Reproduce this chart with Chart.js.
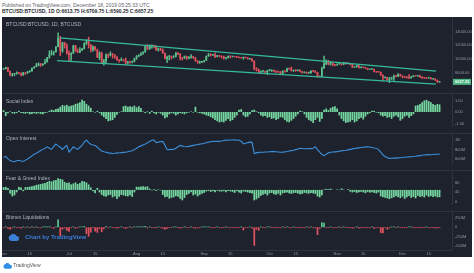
<!DOCTYPE html>
<html>
<head>
<meta charset="utf-8">
<script src="https://cdn.jsdelivr.net/npm/chart.js@4.4.1/dist/chart.umd.min.js"></script>
<style>
  html, body { margin: 0; padding: 0; background: #fff; }
  body { width: 474px; height: 273px; position: relative; overflow: hidden; font-family: Arial, 'Liberation Sans', sans-serif; }
  .hdr { position: absolute; left: 2px; font-size: 5px; line-height: 6px; color: #5d6068; white-space: nowrap; }
  .hdr.b { font-weight: bold; color: #2a2d33; }
  #panel { position: absolute; left: 2px; top: 17px; width: 470px; height: 240px; background: #1e222d; overflow: hidden; }
  #panel canvas { position: absolute; left: 0; }
  .sep { position: absolute; left: 0; width: 470px; height: 1px; background: #30343f; }
  .lbl { position: absolute; left: 4px; font-size: 5px; line-height: 6px; color: #b2b5be; white-space: nowrap; }
  .wm { position: absolute; left: 6px; top: 216px; font-size: 6px; line-height: 8px; font-weight: bold; color: #3b7fd6; white-space: nowrap; }
  .wm svg { vertical-align: middle; margin-right: 6px; }
  .foot { position: absolute; left: 3px; top: 262px; font-size: 5px; line-height: 7px; color: #50535b; white-space: nowrap; }
  .foot svg { vertical-align: middle; margin-right: 1px; }
</style>
</head>
<body>
<div class="hdr" style="top:2px">Published on TradingView.com, December 18, 2019 05:25:33 UTC</div>
<div class="hdr b" style="top:8px">BTCUSD:BTCUSD, 1D O:6613.75 H:6709.75 L:6590.25 C:6657.25</div>

<div id="panel">
  <canvas id="price" width="470" height="76" style="top:0"></canvas>
  <canvas id="social" width="470" height="40" style="top:76px"></canvas>
  <canvas id="oi" width="470" height="37" style="top:116px"></canvas>
  <canvas id="fg" width="470" height="41" style="top:153px"></canvas>
  <canvas id="liq" width="470" height="46" style="top:194px"></canvas>
  <div class="sep" style="top:76px"></div>
  <div class="sep" style="top:116px"></div>
  <div class="sep" style="top:153px"></div>
  <div class="sep" style="top:194px"></div>
  <div class="lbl" style="top:4px">BTCUSD:BTCUSD, 1D, BTCUSD</div>
  <div class="lbl" style="top:81px">Social Index</div>
  <div class="lbl" style="top:118px">Open Interest</div>
  <div class="lbl" style="top:158px">Fear &amp; Greed Index</div>
  <div class="lbl" style="top:197px">Bitmex Liquidations</div>
  <div class="wm"><svg width="11" height="7" viewBox="0 0 22 14"><path d="M6 14 A6 6 0 0 1 5 2.5 A7 7 0 0 1 17 4 A5 5 0 0 1 17 14 Z" fill="#3b7fd6"/></svg>Chart by TradingView</div>
</div>

<div class="foot"><svg width="9" height="6" viewBox="0 0 22 14"><path d="M6 14 A6 6 0 0 1 5 2.5 A7 7 0 0 1 17 4 A5 5 0 0 1 17 14 Z" fill="#2f8fe6"/></svg>TradingView</div>

<script>
// Daily bars, index 0 = Jun 1 2019 ... index 200 = Dec 18 2019
const firstOpen = 8555;
const closes = [
  // Jun
  8557, 8740, 8210, 7680, 7800, 7810, 8000, 7930, 7630, 8015,
  7930, 8180, 8230, 8690, 8840, 8980, 9320, 9080, 9280, 9530,
  10210, 10670, 10860, 11010, 11790, 13017, 11162, 12407, 11960, 10817,
  // Jul
  10580, 10800, 11960, 11140, 10970, 11240, 11450, 12290, 12570, 12100,
  11340, 11790, 11370, 10200, 10850, 9430, 9670, 10630, 10530, 10760,
  10590, 10320, 9850, 9770, 9880, 9850, 9480, 9530, 9500, 9590, 10090,
  // Aug
  10410, 10530, 10820, 10980, 11800, 11470, 11950, 11960, 11850, 11280,
  11530, 11380, 10860, 10020, 10300, 10360, 10230, 10340, 10920, 10760,
  10130, 10120, 10410, 10140, 10140, 10370, 10190, 9720, 9490, 9590, 9630,
  // Sep
  9760, 10390, 10620, 10580, 10580, 10320, 10490, 10410, 10340, 10120,
  10160, 10420, 10360, 10360, 10310, 10260, 10190, 10160, 10270, 10180,
  9990, 10030, 9700, 8530, 8430, 8060, 8190, 8210, 8050, 8300,
  // Oct
  8320, 8380, 8230, 8160, 8150, 7870, 8210, 8180, 8590, 8580,
  8270, 8340, 8310, 8370, 8160, 8000, 8070, 7950, 7960, 8230,
  8220, 8030, 7470, 7430, 8660, 9250, 9550, 9220, 9430, 9190, 9150,
  // Nov
  9260, 9310, 9200, 9400, 9310, 9350, 9200, 8770, 8810, 9040,
  8730, 8810, 8760, 8630, 8460, 8490, 8500, 8180, 8120, 8080,
  7620, 7290, 7320, 6910, 7150, 7170, 7520, 7430, 7760, 7560,
  // Dec
  7420, 7310, 7300, 7200, 7400, 7540, 7510, 7530, 7340, 7230,
  7210, 7200, 7260, 7070, 7110, 6880, 6613.75, 6657.25
];
const highs = [
  8630, 8810, 8760, 8220, 7900, 7880, 8120, 8060, 7960, 8050,
  8040, 8190, 8320, 8700, 8880, 9350, 9430, 9340, 9310, 9950,
  10240, 11180, 11250, 11090, 11800, 13800, 13300, 12440, 12410, 12200,
  11200, 10920, 12000, 12000, 11460, 11650, 11560, 12340, 12820, 13180,
  12130, 11920, 11840, 11430, 11060, 11000, 9950, 10750, 10760, 11050,
  10800, 10650, 10340, 9920, 10160, 9900, 10150, 9640, 9690, 9700, 10120,
  10510, 10630, 10920, 11070, 12010, 12090, 12050, 12010, 12040, 11950,
  11560, 11580, 11450, 10900, 10430, 10520, 10430, 10480, 10940, 10930,
  10770, 10240, 10440, 10420, 10330, 10620, 10380, 10250, 9760, 9690, 9670,
  9800, 10440, 10800, 10770, 10630, 10890, 10530, 10540, 10430, 10400,
  10220, 10450, 10450, 10380, 10380, 10340, 10280, 10250, 10300, 10280,
  10200, 10090, 10040, 9740, 8720, 8540, 8270, 8340, 8230, 8360,
  8500, 8410, 8390, 8270, 8210, 8170, 8300, 8320, 8660, 8650,
  8820, 8400, 8450, 8420, 8400, 8180, 8130, 8100, 8100, 8310,
  8330, 8300, 8050, 7500, 8800, 10400, 9860, 9810, 9530, 9440, 9220,
  9280, 9390, 9320, 9520, 9490, 9430, 9370, 9230, 8860, 9120,
  9060, 8850, 8830, 8780, 8650, 8510, 8600, 8510, 8180, 8200,
  8090, 7680, 7380, 7330, 7350, 7350, 7650, 7650, 7860, 7780,
  7570, 7430, 7420, 7730, 7480, 7620, 7600, 7560, 7630, 7420,
  7270, 7240, 7320, 7270, 7150, 7130, 6940, 6709.75
];
const lows = [
  8470, 8540, 8130, 7510, 7480, 7560, 7770, 7800, 7530, 7580,
  7730, 7880, 8080, 8180, 8630, 8820, 8970, 8920, 9050, 9270,
  9530, 10100, 10560, 10560, 11000, 11750, 10490, 10980, 11580, 10690,
  9750, 9800, 10790, 11040, 10900, 10900, 11200, 11450, 12100, 11600,
  11020, 11100, 11260, 10190, 9880, 9360, 9100, 9300, 10200, 10420,
  10120, 10080, 9800, 9530, 9730, 9680, 9140, 9250, 9400, 9410, 9560,
  9940, 10350, 10520, 10660, 10960, 11370, 11390, 11580, 11620, 11230,
  11140, 11210, 10790, 10020, 9470, 9860, 9990, 10150, 10290, 10620,
  9840, 9840, 10050, 9920, 10010, 10120, 10060, 9650, 9350, 9340, 9450,
  9540, 9750, 10380, 10430, 10470, 10200, 10290, 10290, 10110, 9960,
  9950, 10100, 10150, 10280, 10280, 10200, 10140, 10130, 9950, 10130,
  9960, 9930, 9650, 8430, 8250, 7900, 7950, 8110, 7940, 7730,
  8250, 8170, 8100, 8010, 8050, 7790, 7830, 8060, 8160, 8470,
  8230, 8180, 8200, 8250, 8100, 7930, 7960, 7850, 7870, 7900,
  8150, 8000, 7350, 7370, 7400, 8600, 9170, 9130, 9100, 8970, 8990,
  9050, 9210, 9080, 9170, 9250, 9260, 9130, 8730, 8750, 8800,
  8660, 8700, 8700, 8580, 8410, 8420, 8470, 8090, 8020, 8050,
  7580, 6790, 7200, 6880, 6530, 7000, 6870, 7370, 7420, 7480,
  7240, 7250, 7210, 7140, 7190, 7390, 7480, 7450, 7320, 7170,
  7140, 7110, 7180, 7040, 7020, 6850, 6560, 6590.25
];
const socialIndex = [
  0.15, -0.35, -0.1, 0.05, -0.12, -0.15, -0.1, 0.1, -0.08, -0.12, -0.15, -0.1, -0.2, -0.18, -0.1,
  -0.15, -0.12, -0.18, -0.2, -0.08, -0.05, 0.1, 0.2, 0.15, 0.25, 0.3, 0.45, 0.6, 0.55, 0.62,
  0.5, 0.55, 0.6, 0.7, 0.75, 0.85, 1.05, 0.95, 0.7, 0.55, 0.35, 0.05, -0.05, 0.1, -0.1, -0.3,
  -0.45, -0.6, -0.8, -0.75, -0.7, -0.5, -0.25, -0.05, 0.05, 0.5, 0.55, 0.45, 0.5, 0.45, 0.55,
  0.4, 0.5, 0.35, 0.05, -0.1, 0.05, -0.15, 0.1, -0.1, -0.2, -0.05, -0.15, -0.3, -0.55, -0.45,
  -0.2, -0.1, -0.15, -0.3, -0.2, -0.1, -0.15, -0.2, -0.1, -0.05, 0.05, -0.05, 0.45, -0.05, -0.1, -0.15,
  -0.2, -0.3, -0.35, -0.45, -0.55, -0.7, -0.8, -0.9, -0.85, -0.9, -0.75, -0.6, -0.8, -0.7, -0.5,
  -0.3, 0.2, 0.25, -0.3, -0.45, -0.4, -0.2, 0.15, 0.2, 0.05, -0.1, -0.3, -0.4, -0.35, -0.5,
  -0.45, -0.6, -0.55, -0.7, -0.6, -0.45, -0.5, -0.7, -0.85, -0.9, -0.75, -0.6, -0.4, -0.2, 0.1,
  0.05, -0.2, -0.5, -0.7, -0.8, -0.95, -0.7, -0.5, -0.85, -0.6, 0.2, 0.3, 0.15, 0.35, 0.45, 0.5,
  0.3, -0.3, -0.6, -0.8, -0.95, -0.9, -0.85, -0.7, -0.9, -0.8, -0.6, -0.5, -0.65, -0.4, -0.2,
  -0.1, 0.1, 0.1, -0.05, -0.1, -0.3, -0.4, -0.35, -0.5, -0.45, -0.6, -0.4, -0.3, -0.45, -0.75,
  -0.6, -0.4, -0.3, -0.5, -0.35, -0.2, 0.55, 0.6, 0.7, 0.85, 1.0, 1.05, 0.95, 0.85, 0.7, 0.6, 0.7, 0.65
];
// millions of USD
const openInterest = [
  630, 655, 600, 565, 550, 540, 560, 572, 555, 545, 575, 600, 630, 665, 700,
  720, 750, 780, 805, 830, 860, 830, 805, 870, 918, 880, 850, 805, 850, 890,
  745, 800, 860, 830, 805, 850, 890, 960, 1005, 950, 915, 900, 890, 850, 805, 770,
  755, 745, 730, 725, 717, 722, 730, 727, 735, 740, 745, 755, 765, 775, 800,
  830, 860, 880, 900, 918, 945, 975, 1000, 1005, 948, 960, 970, 977, 900, 805,
  800, 805, 803, 830, 860, 890, 875, 865, 861, 870, 880, 890, 900, 910, 918, 925,
  935, 948, 960, 970, 977, 975, 980, 977, 985, 995, 1005, 1000, 1005, 1005, 1010,
  1000, 1005, 980, 925, 935, 950, 960, 955, 717, 730, 740, 745, 744, 750, 748,
  755, 757, 760, 755, 750, 745, 744, 752, 760, 770, 778, 786, 800, 815, 830,
  825, 820, 818, 822, 821, 830, 861, 800, 744, 700, 670, 700, 730, 744, 748, 752,
  757, 765, 772, 780, 786, 795, 805, 815, 825, 831, 838, 845, 852, 858, 861,
  855, 845, 835, 831, 800, 744, 690, 650, 625, 612, 615, 620, 618, 622, 625,
  630, 635, 640, 645, 648, 652, 657, 665, 672, 678, 683, 687, 692, 690, 695, 700, 702, 704
];
const fearGreed = [
  61, 62, 58, 35, 24, 28, 40, 62, 60, 45, 61, 62, 63, 65, 67,
  70, 72, 74, 76, 78, 82, 86, 84, 88, 90, 97, 94, 92, 82, 78,
  80, 72, 76, 80, 74, 78, 86, 84, 80, 72, 60, 45, 37, 58, 40, 30,
  25, 22, 28, 30, 20, 24, 13, 22, 30, 28, 25, 24, 28, 22, 40,
  63, 62, 64, 65, 63, 64, 55, 48, 53, 46, 52, 48, 30, 20, 22,
  15, 18, 20, 25, 22, 14, 8, 18, 30, 35, 41, 28, 32, 24, 30, 35,
  38, 44, 46, 42, 45, 41, 47, 44, 43, 45, 41, 46, 44, 42, 38,
  45, 40, 36, 44, 42, 40, 38, 36, 8, 12, 18, 26, 30, 34, 28,
  36, 38, 32, 30, 35, 28, 36, 38, 40, 36, 34, 37, 38, 36, 32,
  34, 38, 36, 35, 38, 36, 34, 24, 20, 28, 52, 54, 53, 55, 51, 50,
  52, 49, 56, 52, 50, 53, 43, 40, 42, 38, 41, 43, 40, 37, 42,
  39, 41, 38, 36, 40, 24, 20, 18, 16, 13, 17, 20, 24, 21, 17,
  23, 14, 20, 25, 18, 22, 16, 26, 21, 24, 20, 28, 22, 25, 21, 24, 20, 21
];
const fearGreedBase = 50;
// millions of USD
const liquidations = [
  -15, 8, -40, -60, -25, 5, -10, -5, -30, 6, -8, 5, -5, 10, -4,
  12, -8, -15, 6, 10, 15, 25, -20, -35, 20, 210, -240, -60, -30, -90,
  -120, -20, 18, -40, -15, 8, 5, 30, -180, -250, -140, -20, -110, -145, -40, -130,
  -50, 25, -10, 5, -20, -25, -30, -15, 5, -8, -40, -5, 3, -4, 10,
  8, 5, 10, 6, 35, -30, 12, -5, -8, -25, 6, -10, -35, -60, -40,
  -5, -8, 4, 15, -10, -30, -12, 8, -15, -4, 6, -10, -35, -25, -5, 3,
  6, 20, 8, -6, -4, -12, 5, -4, -10, -14, 6, -6, -3, -2, -4,
  -5, -6, 4, -80, -8, -20, 3, -30, -490, -60, -90, 8, -6, -15, 5,
  4, -3, -10, -6, -4, -20, 12, -5, 18, -6, -15, 4, -3, -8, -12,
  -4, -6, 3, -5, 8, -4, -25, -205, -40, 133, 120, -20, -15, 5, -12, -6,
  -5, 4, -3, 8, -4, -6, -3, -35, -5, 12, -30, -4, -6, -10, -25,
  -4, 5, -40, -10, -8, -150, -160, -20, -60, -30, 15, 20, -8, 10, -15,
  -10, -6, -5, 12, 4, -3, -5, -8, -10, -6, -4, 3, -5, -12, -4, -25, -30, -15
];
// drawn trend channel (day index, price)
const channelTop = [{ x: 26, y: 13070 }, { x: 198.3, y: 8210 }];
const channelBottom = [{ x: 24.5, y: 9760 }, { x: 198.3, y: 6320 }];

const priceTicks = [8000, 10000, 12000, 14000];
const socialTicks = [-1, 0, 1];
const oiTicks = [600, 800, 1000];
const fgTicks = [0, 40, 80];
const liqTicks = [-500, -250, 0, 250];
const timeTicks = [0, 12, 30, 42, 61, 73, 92, 104, 122, 134, 153, 165, 183, 195];
const timeLabels = ['Jun', '15', 'Jul', '15', 'Aug', '15', 'Sep', '15', 'Oct', '15', 'Nov', '15', 'Dec', '15'];

// Colors
const upColor = '#5cc08d',
  downColor = '#e0525e',
  histColor = '#74d59f',
  oiColor = '#3a8fdb',
  channelColor = '#35bb9c',
  tickColor = '#9598a1',
  sepColor = '#30343f';

const X_MIN = -0.73, X_MAX = 205.7;
const axisFont = { family: 'Arial', size: 4 };

const opens = closes.map((c, i) => (i === 0 ? firstOpen : closes[i - 1]));
const candleColors = closes.map((c, i) => (c >= opens[i] ? upColor : downColor));

function xScale(show) {
  return {
    type: 'linear', min: X_MIN, max: X_MAX, offset: false, display: show,
    grid: { display: false, drawTicks: false },
    border: { display: true, color: sepColor },
    afterBuildTicks: s => { s.ticks = timeTicks.map(v => ({ value: v })); },
    afterFit: s => { s.height = 7; s.paddingLeft = 0; s.paddingRight = 0; },
    ticks: { autoSkip: false, maxRotation: 0, padding: 1.5, color: tickColor, font: axisFont,
      callback: (v, i) => timeLabels[i] }
  };
}

function yScale(min, max, ticks, fmt) {
  return {
    position: 'right', min, max,
    grid: { display: false, drawTicks: false },
    border: { display: true, color: sepColor },
    afterBuildTicks: s => { s.ticks = ticks.map(v => ({ value: v })); },
    afterFit: s => { s.width = 20; s.paddingTop = 0; s.paddingBottom = 0; },
    ticks: { autoSkip: false, padding: 3, color: tickColor, font: axisFont, callback: fmt }
  };
}

function pane(id, datasets, y, showTime, plugins) {
  return new Chart(document.getElementById(id), {
    type: 'bar',
    data: { datasets },
    options: {
      responsive: false, animation: false, devicePixelRatio: 1,
      layout: { padding: 0 },
      plugins: { legend: { display: false }, tooltip: { enabled: false } },
      scales: { x: xScale(showTime), y }
    },
    plugins: plugins || []
  });
}

// last price tag on the price axis
const lastTag = {
  id: 'lastTag',
  afterDraw(chart) {
    const { ctx, chartArea, scales } = chart;
    const last = closes[closes.length - 1];
    const y = scales.y.getPixelForValue(last);
    ctx.save();
    ctx.fillStyle = '#4fb585';
    ctx.fillRect(chartArea.right + 1, y - 3, 18, 6);
    ctx.fillStyle = '#eafff3';
    ctx.font = 'bold 4px Arial';
    ctx.textBaseline = 'middle';
    ctx.fillText(last.toFixed(2), chartArea.right + 3, y + 0.3);
    ctx.restore();
  }
};

pane('price', [
  { type: 'line', data: channelTop, borderColor: channelColor, borderWidth: 1.2, pointRadius: 0, order: 0 },
  { type: 'line', data: channelBottom, borderColor: channelColor, borderWidth: 1.2, pointRadius: 0, order: 0 },
  { data: closes.map((c, i) => ({ x: i, y: [opens[i], c] })), backgroundColor: candleColors,
    grouped: false, barPercentage: 0.8, categoryPercentage: 1, minBarLength: 0.8, order: 1 },
  { data: closes.map((c, i) => ({ x: i, y: [lows[i], highs[i]] })), backgroundColor: candleColors,
    grouped: false, barThickness: 0.8, order: 2 }
], yScale(6053, 16119, priceTicks, v => v.toFixed(2)), false, [lastTag]);

pane('social', [
  { data: socialIndex.map((v, i) => ({ x: i, y: v })), backgroundColor: histColor,
    barPercentage: 0.8, categoryPercentage: 1 }
], yScale(-1.214, 1.643, socialTicks, v => v.toFixed(2)), false);

pane('oi', [
  { type: 'line', data: openInterest.map((v, i) => ({ x: i, y: v })), borderColor: oiColor,
    borderWidth: 1.1, pointRadius: 0, tension: 0 }
], yScale(513, 1156, oiTicks, v => (v >= 1000 ? v / 1000 + 'B' : v + 'M')), false);

pane('fg', [
  { data: fearGreed.map((v, i) => ({ x: i, y: [fearGreedBase, v] })), backgroundColor: histColor,
    barPercentage: 0.8, categoryPercentage: 1 }
], yScale(-6.7, 130, fgTicks, v => String(v)), false);

pane('liq', [
  { data: liquidations.map((v, i) => ({ x: i, y: v })),
    backgroundColor: liquidations.map(v => (v >= 0 ? upColor : downColor)),
    barPercentage: 0.8, categoryPercentage: 1, minBarLength: 0.8 }
], yScale(-605, 434, liqTicks, v => (v === 0 ? '0' : v + 'M')), true);
</script>
</body>
</html>
